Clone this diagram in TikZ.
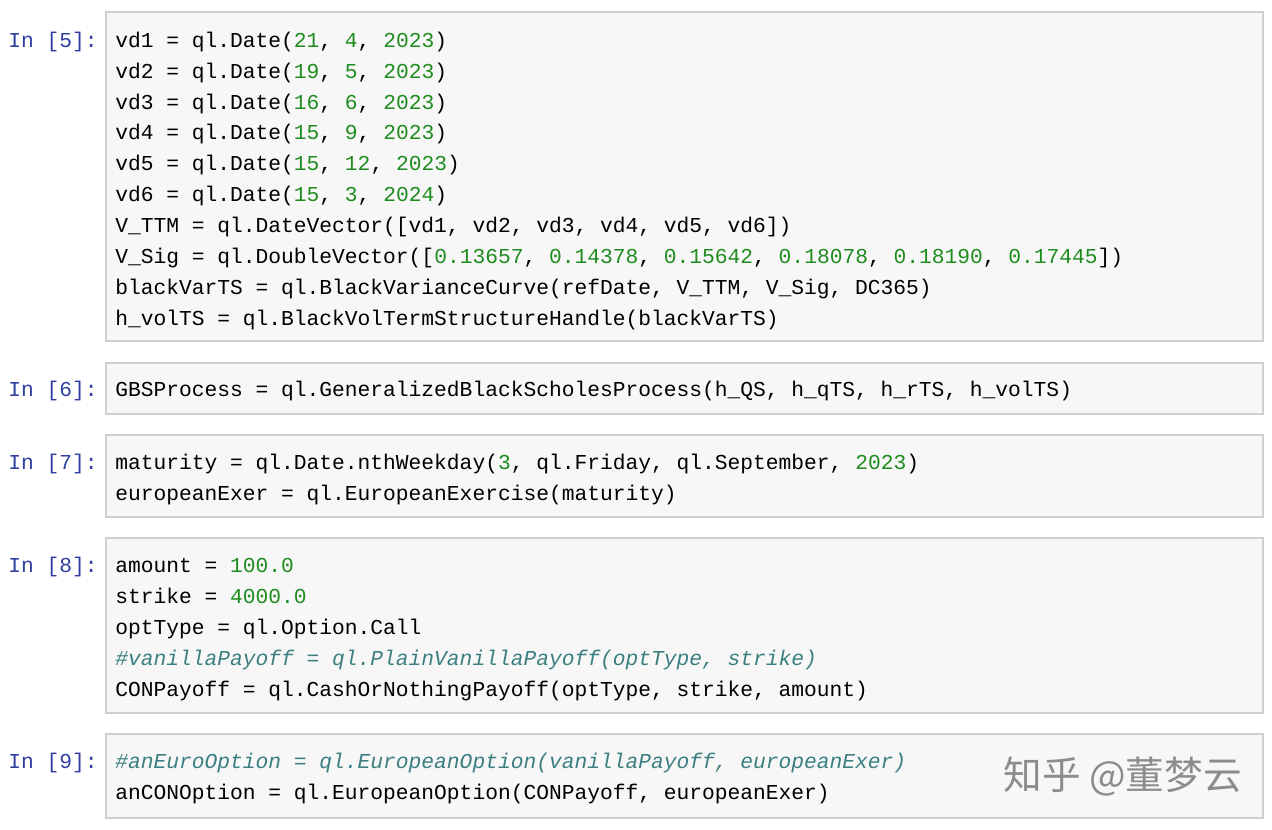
\documentclass[tikz,border=0pt]{standalone}
\usepackage{fontspec}
\newfontfamily\codefont{Liberation Mono}
\newfontfamily\cjk{Noto Sans CJK SC}
\definecolor{cellbg}{HTML}{F7F7F7}
\definecolor{cellline}{HTML}{CFCFCF}
\definecolor{promptblue}{HTML}{303F9F}
\definecolor{numgreen}{HTML}{1E8C1E}
\definecolor{commentteal}{HTML}{3B7F80}
\newcommand\num[1]{\textcolor{numgreen}{#1}}
\newcommand\cmt[1]{\textcolor{commentteal}{\itshape #1}}
\tikzset{
  cell/.style={fill=cellbg, draw=cellline, line width=0.6pt},
  code/.style={anchor=base west, inner sep=0pt, font=\codefont\fontsize{12.1}{14}\selectfont},
  prompt/.style={code, text=promptblue}
}
\begin{document}
\begin{tikzpicture}[x=0.02cm,y=-0.02cm]
  \useasboundingbox (0,0) rectangle (1272,830);
  % cells
  \draw[cell] (106,12) rectangle (1263,341);
  \draw[cell] (106,363) rectangle (1263,414);
  \draw[cell] (106,435) rectangle (1263,517);
  \draw[cell] (106,538) rectangle (1263,713);
  \draw[cell] (106,734) rectangle (1263,818);
  % In [5]
  \node[prompt] (p5) at (8,48) {In [5]:};
  \node[code] (l51) at (115,48) {vd1 = ql.Date(\num{21}, \num{4}, \num{2023})};
  \node[code] (l52) at (115,79) {vd2 = ql.Date(\num{19}, \num{5}, \num{2023})};
  \node[code] (l53) at (115,110) {vd3 = ql.Date(\num{16}, \num{6}, \num{2023})};
  \node[code] (l54) at (115,140) {vd4 = ql.Date(\num{15}, \num{9}, \num{2023})};
  \node[code] (l55) at (115,171) {vd5 = ql.Date(\num{15}, \num{12}, \num{2023})};
  \node[code] (l56) at (115,202) {vd6 = ql.Date(\num{15}, \num{3}, \num{2024})};
  \node[code] (l57) at (115,233) {V\_TTM = ql.DateVector([vd1, vd2, vd3, vd4, vd5, vd6])};
  \node[code] (l58) at (115,264) {V\_Sig = ql.DoubleVector([\num{0.13657}, \num{0.14378}, \num{0.15642}, \num{0.18078}, \num{0.18190}, \num{0.17445}])};
  \node[code] (l59) at (115,295) {blackVarTS = ql.BlackVarianceCurve(refDate, V\_TTM, V\_Sig, DC365)};
  \node[code] (l510) at (115,326) {h\_volTS = ql.BlackVolTermStructureHandle(blackVarTS)};
  % In [6]
  \node[prompt] (p6) at (8,397) {In [6]:};
  \node[code] (l61) at (115,397) {GBSProcess = ql.GeneralizedBlackScholesProcess(h\_QS, h\_qTS, h\_rTS, h\_volTS)};
  % In [7]
  \node[prompt] (p7) at (8,470) {In [7]:};
  \node[code] (l71) at (115,470) {maturity = ql.Date.nthWeekday(\num{3}, ql.Friday, ql.September, \num{2023})};
  \node[code] (l72) at (115,501) {europeanExer = ql.EuropeanExercise(maturity)};
  % In [8]
  \node[prompt] (p8) at (8,573) {In [8]:};
  \node[code] (l81) at (115,573) {amount = \num{100.0}};
  \node[code] (l82) at (115,604) {strike = \num{4000.0}};
  \node[code] (l83) at (115,635) {optType = ql.Option.Call};
  \node[code] (l84) at (115,666) {\cmt{\#vanillaPayoff = ql.PlainVanillaPayoff(optType, strike)}};
  \node[code] (l85) at (115,697) {CONPayoff = ql.CashOrNothingPayoff(optType, strike, amount)};
  % In [9]
  \node[prompt] (p9) at (8,769) {In [9]:};
  \node[code] (l91) at (115,769) {\cmt{\#anEuroOption = ql.EuropeanOption(vanillaPayoff, europeanExer)}};
  \node[code] (l92) at (115,800) {anCONOption = ql.EuropeanOption(CONPayoff, europeanExer)};
  % watermark
  \node[anchor=west, inner sep=0pt, text=black!45, font=\cjk\fontsize{22}{25}\selectfont] (mark) at (1003,777) {知乎 @董梦云};
\end{tikzpicture}
\end{document}
